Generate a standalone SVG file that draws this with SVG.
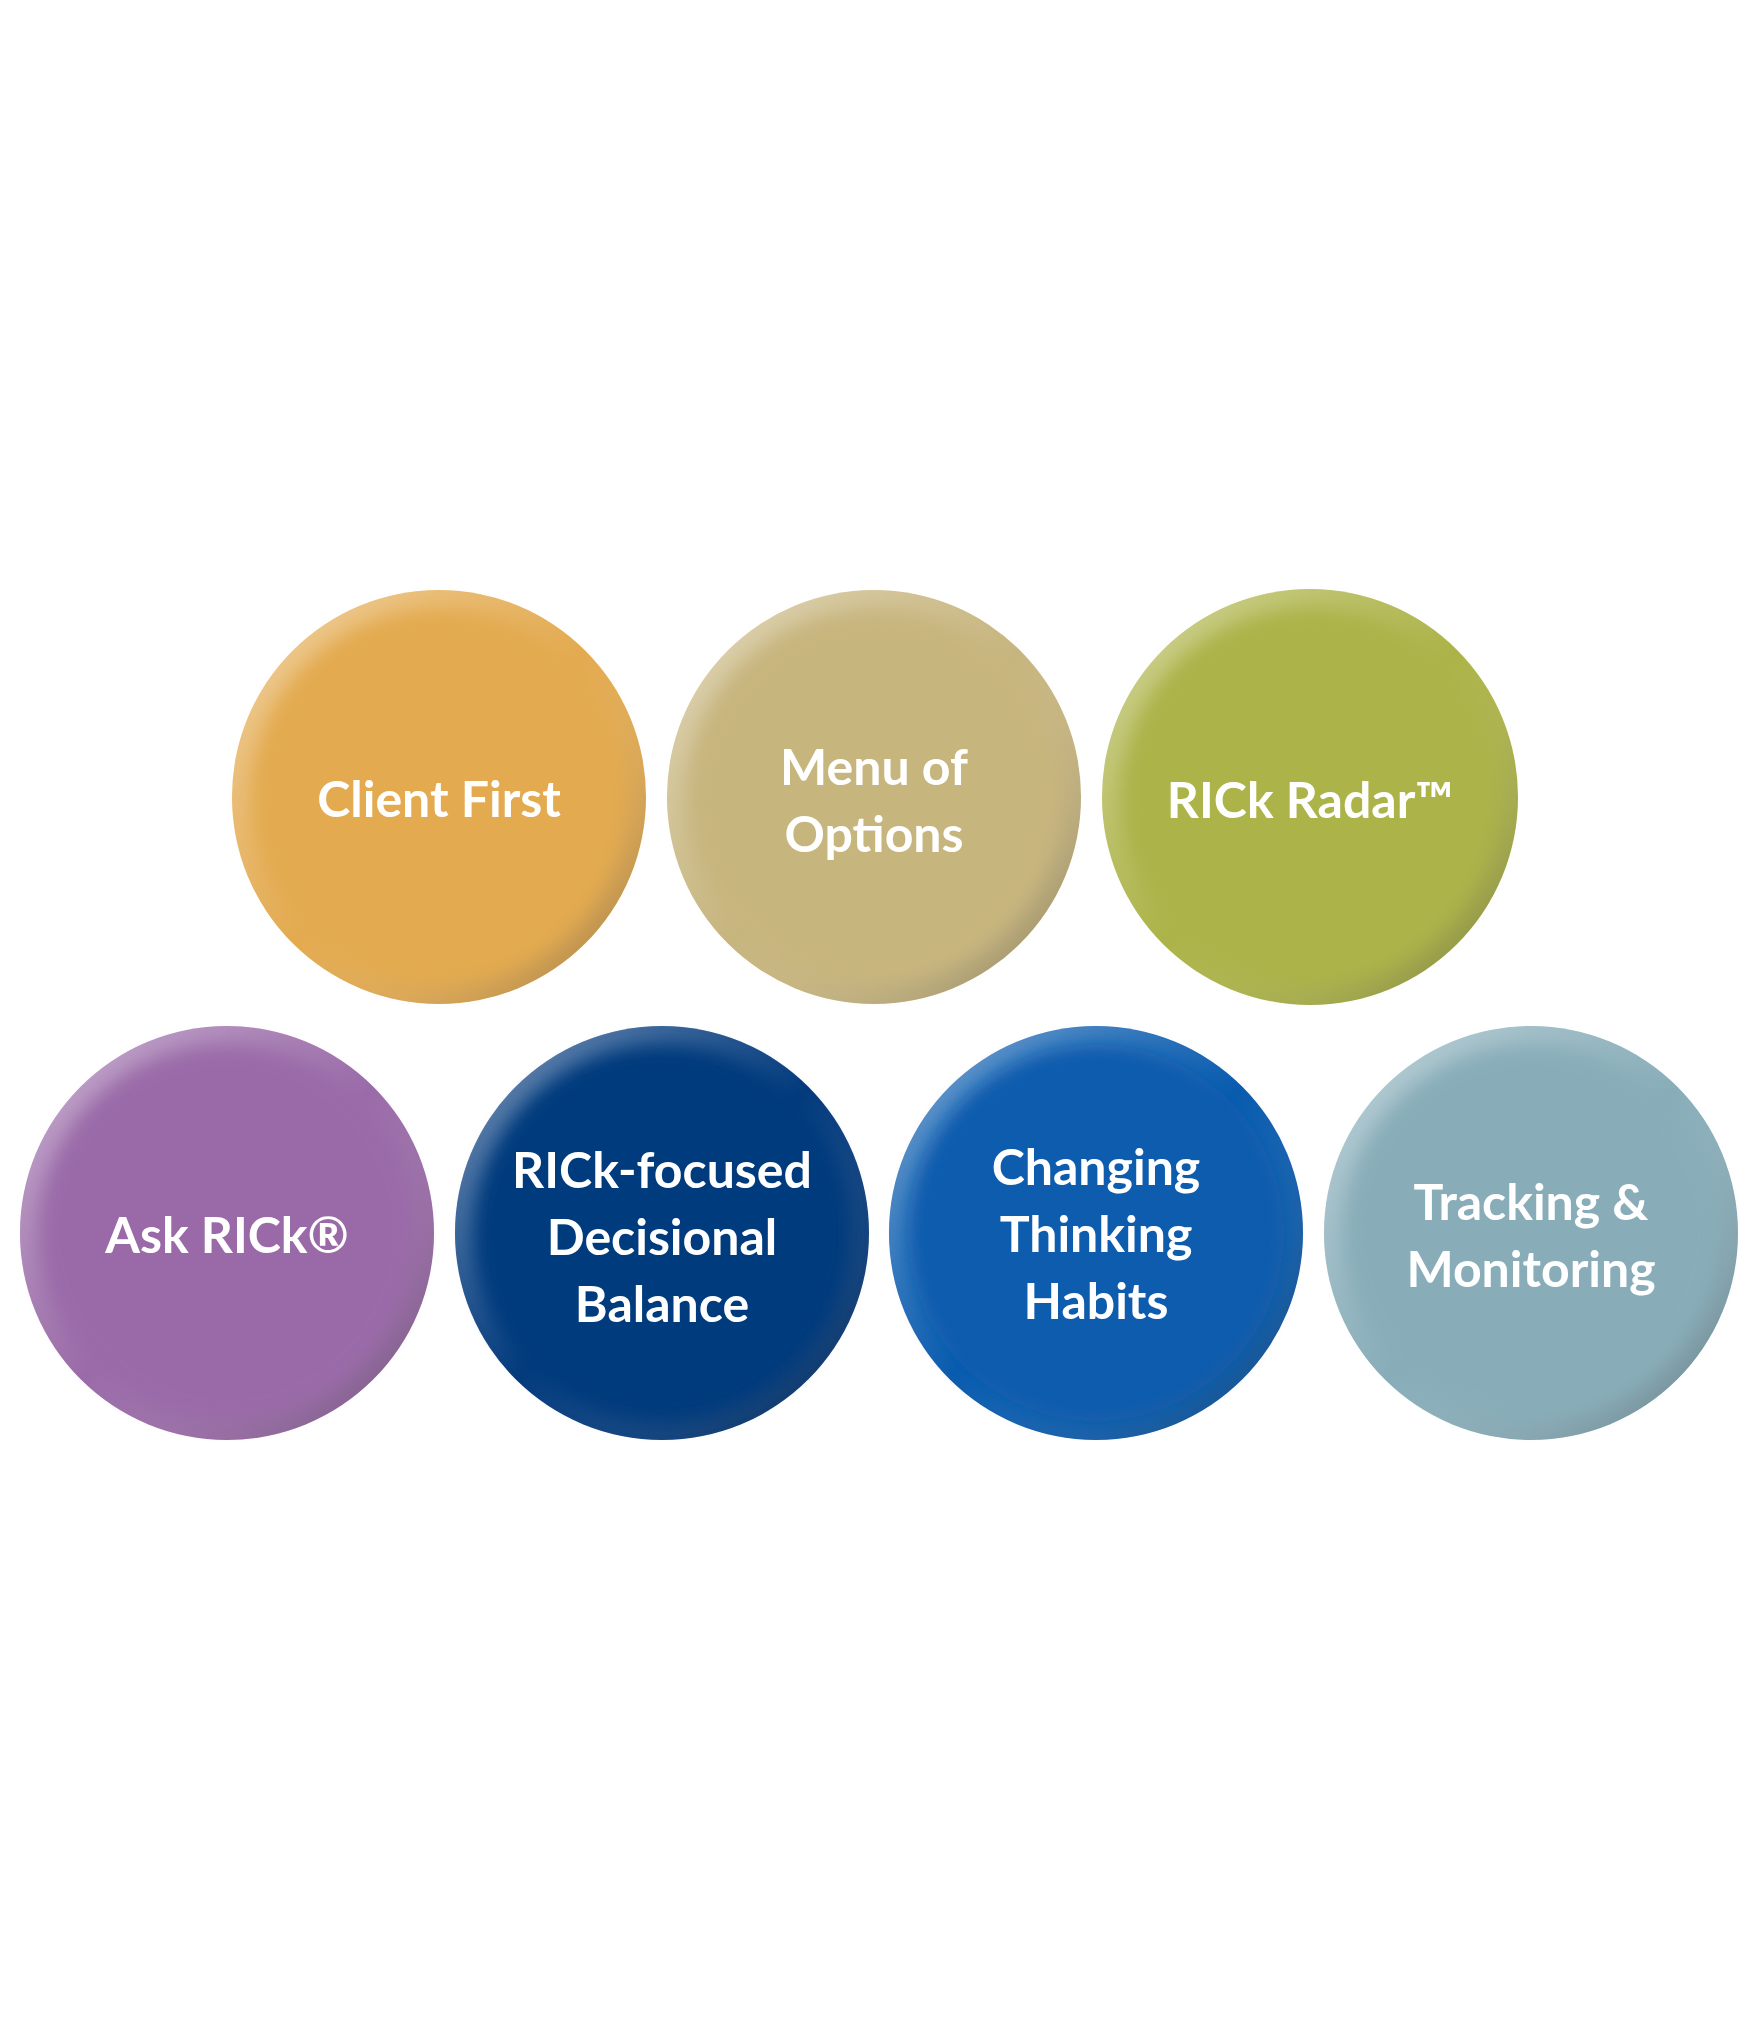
<svg xmlns="http://www.w3.org/2000/svg" width="1754" height="2026" viewBox="0 0 1754 2026">
<style>
text{font-family:Lato,"Open Sans","Liberation Sans",sans-serif;font-weight:bold;font-size:50px;fill:#fff;text-anchor:middle}
</style>
<defs>
<filter id="soft" x="-20%" y="-20%" width="140%" height="140%"><feGaussianBlur stdDeviation="9"/></filter>
<linearGradient id="edge" x1="0" y1="0" x2="1" y2="1">
<stop offset="0" stop-color="#fff" stop-opacity="0.45"/>
<stop offset="0.5" stop-color="#fff" stop-opacity="0"/>
<stop offset="1" stop-color="#000" stop-opacity="0.3"/>
</linearGradient>
</defs>
<rect width="1754" height="2026" fill="#fff"/>
<g id="client-first"><circle cx="439" cy="797" r="207" fill="#E3AA50"/><circle cx="439" cy="797" r="207" fill="url(#edge)"/><circle cx="439" cy="797" r="188" fill="#E3AA50" filter="url(#soft)"/><text x="439" y="817">Client First</text></g>
<g id="menu-of-options"><circle cx="874" cy="797" r="207" fill="#C7B57E"/><circle cx="874" cy="797" r="207" fill="url(#edge)"/><circle cx="874" cy="797" r="188" fill="#C7B57E" filter="url(#soft)"/><text x="874" y="785">Menu of</text><text x="874" y="852">Options</text></g>
<g id="rick-radar"><circle cx="1310" cy="797" r="208" fill="#ACB348"/><circle cx="1310" cy="797" r="208" fill="url(#edge)"/><circle cx="1310" cy="797" r="189" fill="#ACB348" filter="url(#soft)"/><text x="1310" y="818">RICk Radar™</text></g>
<g id="ask-rick"><circle cx="227" cy="1233" r="207" fill="#9A6BA8"/><circle cx="227" cy="1233" r="207" fill="url(#edge)"/><circle cx="227" cy="1233" r="188" fill="#9A6BA8" filter="url(#soft)"/><text x="227" y="1253">Ask RICk®</text></g>
<g id="rick-focused"><circle cx="662" cy="1233" r="207" fill="#033B7D"/><circle cx="662" cy="1233" r="207" fill="url(#edge)"/><circle cx="662" cy="1233" r="188" fill="#033B7D" filter="url(#soft)"/><text x="662" y="1188">RICk-focused</text><text x="662" y="1255">Decisional</text><text x="662" y="1322">Balance</text></g>
<g id="changing-thinking-habits"><circle cx="1096" cy="1233" r="207" fill="#0A5BAE"/><circle cx="1096" cy="1233" r="207" fill="url(#edge)"/><circle cx="1096" cy="1233" r="188" fill="#0A5BAE" filter="url(#soft)"/><text x="1096" y="1185">Changing</text><text x="1096" y="1252">Thinking</text><text x="1096" y="1319">Habits</text></g>
<g id="tracking-monitoring"><circle cx="1531" cy="1233" r="207" fill="#88ADB9"/><circle cx="1531" cy="1233" r="207" fill="url(#edge)"/><circle cx="1531" cy="1233" r="188" fill="#88ADB9" filter="url(#soft)"/><text x="1531" y="1220">Tracking &amp;</text><text x="1531" y="1287">Monitoring</text></g>
<g id="connectors"/>
</svg>
